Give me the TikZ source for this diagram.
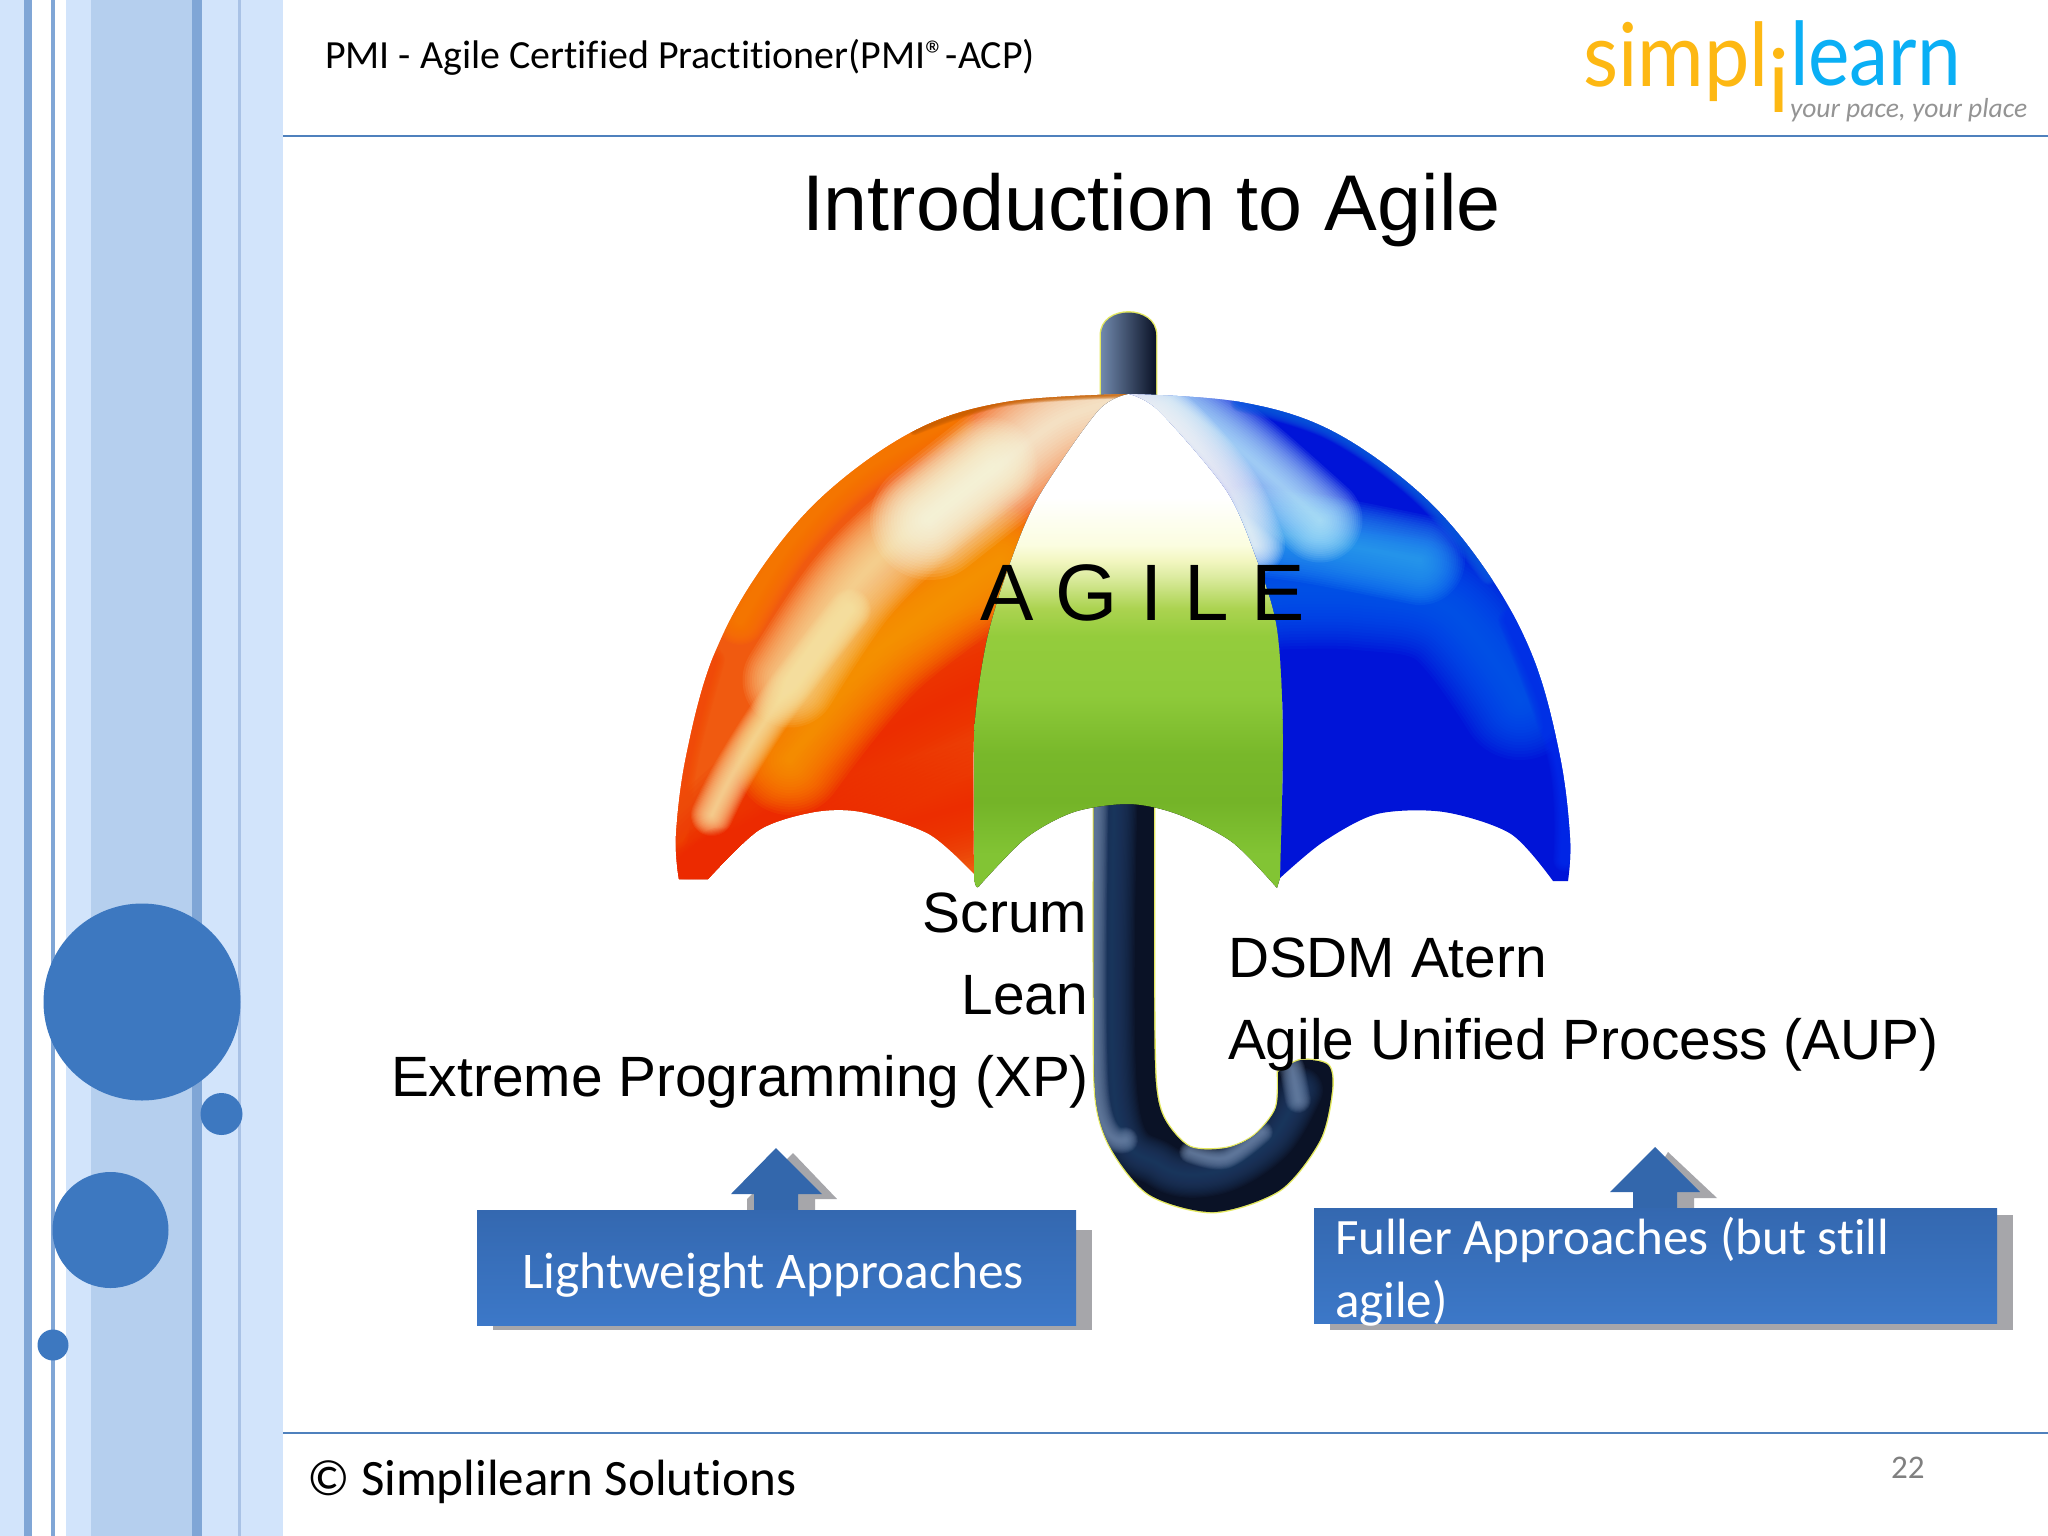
\documentclass[tikz,border=0pt]{standalone}
\usepackage{fontspec}
\setmainfont{Liberation Sans}
\newfontfamily\carl[Ligatures=CommonOff]{Carlito}
\newfontfamily\lat{Lato}
\newcommand{\fpx}[1]{\pgfmathsetmacro{\fpt}{#1*0.28453}\fontsize{\fpt pt}{\fpt pt}\selectfont}
\definecolor{sideL}{HTML}{D2E4FB}
\definecolor{sideM}{HTML}{B5CFEE}
\definecolor{sideD}{HTML}{80A6D6}
\definecolor{sideT}{HTML}{A9C2E6}
\definecolor{dotc}{HTML}{3D78C0}
\definecolor{rule}{HTML}{4F81BD}
\definecolor{shad}{HTML}{A6A6AA}
\definecolor{boxT}{HTML}{3468B0}
\definecolor{boxB}{HTML}{3C78C8}
\definecolor{arrc}{HTML}{3367AC}
\definecolor{logoO}{HTML}{FDB813}
\definecolor{logoB}{HTML}{0AAFF5}
\definecolor{hD}{HTML}{0A1226}
\definecolor{hM}{HTML}{23406B}
\definecolor{hL}{HTML}{7088AC}
\definecolor{fringe}{HTML}{E4E860}
\definecolor{ga}{HTML}{82C434}
\definecolor{gb}{HTML}{74B428}
\definecolor{gc}{HTML}{78B82A}
\definecolor{gd}{HTML}{8ECA3A}
\definecolor{ge}{HTML}{94CC3C}
\definecolor{gf}{HTML}{ABD350}
\definecolor{gg}{HTML}{DCEBA0}
\definecolor{gh}{HTML}{F2F6C0}
\definecolor{gi}{HTML}{FBFDE0}
\definecolor{rBase}{HTML}{F05A10}
\definecolor{rRed}{HTML}{EC2A00}
\definecolor{rOr}{HTML}{FFA000}
\definecolor{rRim}{HTML}{FF8000}
\definecolor{rPale}{HTML}{FFE8A8}
\definecolor{rWhite}{HTML}{FFFDE8}
\definecolor{rEdge}{HTML}{C86000}
\definecolor{rLow}{HTML}{F84A08}
\definecolor{bBase}{HTML}{0014D8}
\definecolor{bBand}{HTML}{0A60F0}
\definecolor{bCy}{HTML}{30A8F5}
\definecolor{bPale}{HTML}{C0F0FF}
\definecolor{bRim}{HTML}{1060E0}
\definecolor{bEdge}{HTML}{0A30F0}
\pgfdeclareverticalshading{greenp}{100bp}{
 color(0bp)=(ga);
 color(28.4bp)=(ga);
 color(33.7bp)=(gb);
 color(38.5bp)=(gc);
 color(44.5bp)=(gd);
 color(50.5bp)=(ge);
 color(53.3bp)=(gf);
 color(56.5bp)=(gg);
 color(58.1bp)=(gh);
 color(59.7bp)=(gi);
 color(64.5bp)=(white);
 color(100bp)=(white)}
\newcommand{\softline}[3]{%
 \foreach \st in {1,...,20}{%
  \pgfmathsetmacro{\wd}{#3*0.28453*\st/20}
  \draw[draw=#1,opacity=0.09,line width=\wd pt,line cap=round,line join=round] plot[smooth,tension=0.6] coordinates {#2};
 }}
\def\leftpanel{plot[smooth,tension=0.6] coordinates{(1129,394)(1006,402)(914,431)(823,496)(757,575)(712,660)(686,757)(676,836)(679,879)} -- (708,879) -- plot[smooth] coordinates{(708,879)(759,830)(814,812)(862,812)(929,834)(974,874)} -- plot[smooth] coordinates{(974,874)(974,735)(986,644)(1008,569)(1038,498)(1098,411)(1129,394)} -- cycle}
\def\greenpanel{plot[smooth] coordinates{(1129,394)(1098,411)(1038,498)(1008,569)(986,644)(974,735)(974,874)(980,885)} -- plot[smooth] coordinates{(980,885)(1026,838)(1074,812)(1129,804)(1177,814)(1232,842)(1277,888)} -- plot[smooth] coordinates{(1280,878)(1283,735)(1277,628)(1256,557)(1226,490)(1159,411)(1129,394)} -- cycle}
\def\bluepanel{plot[smooth] coordinates{(1129,394)(1159,411)(1226,490)(1256,557)(1277,628)(1283,735)(1280,878)} -- plot[smooth] coordinates{(1280,878)(1323,842)(1377,814)(1444,812)(1511,834)(1553,881)} -- (1568,881) -- plot[smooth,tension=0.6] coordinates{(1568,881)(1570,838)(1560,757)(1534,660)(1489,575)(1423,496)(1332,431)(1240,402)(1129,394)} -- cycle}
\def\hookshape{plot[smooth] coordinates{(1094,790)(1094,1000)(1096,1100)(1112,1150)(1150,1195)(1214,1212)(1280,1190)(1320,1140)(1332,1090)(1328,1065)(1301,1060)(1278,1072)} -- plot[smooth] coordinates{(1278,1072)(1276,1108)(1255,1135)(1227,1148)(1190,1147)(1165,1120)(1156,1085)(1154,1000)(1154,790)} -- cycle}
\tikzset{
 lbl/.style={anchor=base west,inner sep=0pt,outer sep=0pt},
 lblr/.style={anchor=base east,inner sep=0pt,outer sep=0pt},
 dot/.style={fill=dotc},
 bluebox/.style={bottom color=boxB,top color=boxT,draw=none},
}
\begin{document}
\begin{tikzpicture}[x=0.01cm,y=-0.01cm]
\useasboundingbox (0,0) rectangle (2048,1536);
\fill[white] (0,0) rectangle (2048,1536);
% side bar
\fill[sideL] (0,0) rectangle (24,1536);
\fill[sideD] (24,0) rectangle (32,1536);
\fill[sideD] (51,0) rectangle (55,1536);
\fill[sideL] (66,0) rectangle (283,1536);
\fill[sideM] (91,0) rectangle (192,1536);
\fill[sideD] (192,0) rectangle (202,1536);
\fill[sideT] (238,0) rectangle (241,1536);
\fill[dot] (142,1002) circle (98.5);
\fill[dot] (221.5,1114) circle (21);
\fill[dot] (110.5,1230) circle (58);
\fill[dot] (53,1345) circle (15.5);
% rules
\draw[rule,line width=0.6pt] (283,136) -- (2048,136);
\draw[rule,line width=0.6pt] (283,1433) -- (2048,1433);
% header
\node[lbl,font=\carl\fpx{39.9}] (course) at (325,68) {PMI - Agile Certified Practitioner(PMI®-ACP)};
\node[lbl,font=\lat\fpx{88},text=logoO] (simpl) at (1583,86) {\scalebox{0.92}[1]{simpl}};
\node[lbl,font=\lat\fpx{88},text=logoO] (ibar) at (1768,112) {i};
\node[lbl,font=\lat\fpx{88},text=logoB] (learn) at (1790,85) {\scalebox{0.89}[1]{learn}};
\node[lbl,font=\carl\itshape\fpx{27.5},text=black!42] (tag) at (1790,117) {your pace, your place};
% title
\node[lbl,font=\fpx{79}] (title) at (802,230) {Introduction to Agile};
% umbrella stem
\draw[fringe,line width=0.8pt] (1101,395) -- (1101,335) .. controls (1101,305) and (1156,305) .. (1156,335) -- (1156,395);
\shade[left color=hL,middle color=hM,right color=hD] (1101,395) -- (1101,335) .. controls (1101,305) and (1156,305) .. (1156,335) -- (1156,395) -- cycle;
% handle
\draw[fringe,line width=0.8pt] \hookshape;
\begin{scope}
\clip \hookshape;
\fill[hD] (1080,780) rectangle (1340,1220);
\softline{hM}{(1115,780)(1115,1100)(1160,1165)(1215,1172)(1270,1140)(1300,1090)}{46}
\softline{hL}{(1096,780)(1096,1090)(1125,1140)}{26}
\softline{hL}{(1190,1152)(1225,1158)(1262,1132)}{22}
\softline{hL}{(1292,1068)(1298,1100)}{26}
\end{scope}
% left panel
\begin{scope}
\clip \leftpanel;
\fill[rBase] (660,380) rectangle (1140,900);
\softline{rRed}{(720,860)(800,790)(890,730)(990,680)}{150}
\softline{rRed}{(700,890)(850,840)(985,800)}{120}
\softline{rOr}{(790,760)(880,650)(1000,560)}{110}
\softline{rRim}{(740,620)(790,540)(860,470)(950,420)}{50}
\softline{rPale}{(712,815)(735,770)(780,700)(850,610)}{42}
\softline{rPale}{(790,680)(850,590)(915,525)(990,465)}{95}
\softline{rWhite}{(930,520)(1000,465)(1060,420)(1120,400)}{120}
\softline{rLow}{(676,836)(686,757)(712,660)}{26}
\softline{rRed}{(685,880)(720,855)}{55}
\softline{rEdge}{(914,431)(1006,402)(1129,394)}{9}
\end{scope}
% green panel
\begin{scope}
\clip \greenpanel;
\fill[shading=greenp] (974,394) rectangle (1283,888);
\end{scope}
% blue panel
\begin{scope}
\clip \bluepanel;
\fill[bBase] (1120,380) rectangle (1580,900);
\softline{bBand}{(1270,590)(1360,590)(1450,610)(1520,700)}{120}
\softline{bCy}{(1250,530)(1320,540)(1420,560)}{90}
\softline{bPale}{(1170,400)(1240,450)(1320,520)}{85}
\softline{white}{(1135,395)(1180,430)(1230,490)(1255,545)}{60}
\softline{bRim}{(1240,402)(1332,431)(1423,496)(1489,575)}{20}
\softline{bEdge}{(1510,620)(1560,760)(1565,860)}{24}
\end{scope}
% umbrella text
\node[lbl,font=\fpx{80}] (agile) at (980,620) {A G I L E};
\node[lblr,font=\fpx{56.8}] (scrum) at (1087,932) {Scrum};
\node[lblr,font=\fpx{56.8}] (lean) at (1088,1014) {Lean};
\node[lblr,font=\fpx{56.8}] (xp) at (1089,1096) {Extreme Programming (XP)};
\node[lbl,font=\fpx{56.8}] (dsdm) at (1228,977) {DSDM Atern};
\node[lbl,font=\fpx{56.8}] (aup) at (1228,1059) {Agile Unified Process (AUP)};
% left box
\fill[shad] (793,1153) -- (837,1199) -- (815,1199) -- (815,1230) -- (747,1230) -- (747,1199) -- cycle;
\fill[shad] (493,1230) rectangle (1092,1330);
\fill[arrc] (776,1148) -- (822,1194) -- (798,1194) -- (798,1215) -- (754,1215) -- (754,1194) -- (731,1194) -- cycle;
\fill[bluebox] (477,1210) rectangle (1076,1325);
\node[lbl,font=\carl\fpx{51.4},text=white] (light) at (522,1288) {Lightweight Approaches};
% right box
\fill[shad] (1668,1152) -- (1717,1198) -- (1694,1198) -- (1694,1225) -- (1640,1225) -- (1640,1198) -- cycle;
\fill[shad] (1330,1215) rectangle (2013,1330);
\fill[arrc] (1655,1147) -- (1700,1192) -- (1677,1192) -- (1677,1212) -- (1633,1212) -- (1633,1192) -- (1610,1192) -- cycle;
\fill[bluebox] (1314,1208) rectangle (1997,1323);
\node[lbl,font=\carl\fpx{51},text=white] (fuller) at (1335,1254) {Fuller Approaches (but still};
\node[lbl,font=\carl\fpx{51},text=white] (agl) at (1335,1317) {agile)};
% footer
\node[lbl,font=\carl\fpx{51}] (copy) at (307,1495) {© Simplilearn Solutions};
\node[lbl,font=\carl\fpx{33},text=black!50] (pg) at (1891,1478) {22};
\end{tikzpicture}
\end{document}
